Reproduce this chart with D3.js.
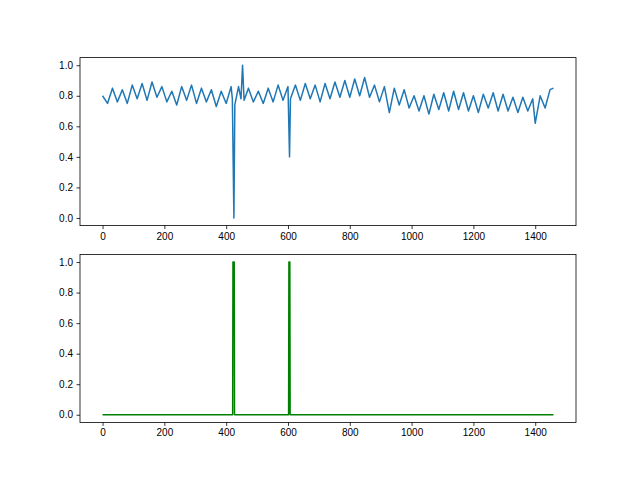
<!DOCTYPE html>
<html><head><meta charset="utf-8">
<script src="https://cdn.jsdelivr.net/npm/d3@7"></script>
<style>body{margin:0;background:#fff}svg{font-family:"DejaVu Sans",sans-serif}</style>
</head><body><svg id="c" width="640" height="480"></svg>
<script>
const topX = [0,16,32,48,64,80,96,112,128,144,160,176,192,208,224,240,256,272,288,304,320,336,352,368,384,400,416,420,425,428,440,448,453,458,472,488,504,520,536,552,568,584,600,605,608,624,640,656,672,688,704,720,736,752,768,784,800,816,832,848,864,880,896,912,928,944,960,976,992,1008,1024,1040,1056,1072,1088,1104,1120,1136,1152,1168,1184,1200,1216,1232,1248,1264,1280,1296,1312,1328,1344,1360,1376,1392,1400,1416,1432,1448,1459];
const topY = [0.80,0.75,0.85,0.76,0.84,0.75,0.87,0.78,0.88,0.77,0.89,0.79,0.86,0.76,0.83,0.74,0.86,0.77,0.87,0.75,0.85,0.76,0.84,0.73,0.83,0.75,0.86,0.78,0.0,0.74,0.86,0.78,1.0,0.77,0.85,0.76,0.83,0.75,0.85,0.76,0.87,0.77,0.86,0.40,0.78,0.87,0.77,0.88,0.78,0.87,0.76,0.88,0.78,0.89,0.79,0.90,0.79,0.91,0.80,0.92,0.79,0.87,0.76,0.86,0.69,0.85,0.74,0.84,0.72,0.80,0.70,0.80,0.68,0.81,0.71,0.82,0.70,0.83,0.71,0.82,0.70,0.80,0.69,0.81,0.72,0.82,0.70,0.81,0.70,0.79,0.69,0.79,0.70,0.78,0.62,0.80,0.72,0.84,0.85];
const botX = [0,421,422,426,427,602,603,606,607,1459];
const botY = [0,0,1,1,0,0,1,1,0,0];
const yTicks = [0,0.2,0.4,0.6,0.8,1.0];
const xTicks = [0,200,400,600,800,1000,1200,1400];

const svg = d3.select("#c");
const L = 80, R = 576;
const x = d3.scaleLinear().domain([-73, 1532]).range([L, R]);

function panel(top, bottom, xs, ys, color) {
  const y = d3.scaleLinear().domain([-0.05, 1.05]).range([bottom, top]);
  const g = svg.append("g");
  g.append("path").datum(xs.map((v, i) => [v, ys[i]]))
    .attr("fill", "none").attr("stroke", color).attr("stroke-width", 1.5)
    .attr("stroke-linejoin", "round")
    .attr("d", d3.line().x(d => x(d[0])).y(d => y(d[1])));
  g.append("rect").attr("x", L).attr("y", top).attr("width", R - L).attr("height", bottom - top)
    .attr("fill", "none").attr("stroke", "#000").attr("stroke-width", 0.8);
  const ax = g.append("g").attr("transform", `translate(0,${bottom})`)
    .call(d3.axisBottom(x).tickValues(xTicks).tickSize(3.5).tickPadding(3.5).tickFormat(d3.format("d")));
  const ay = g.append("g").attr("transform", `translate(${L},0)`)
    .call(d3.axisLeft(y).tickValues(yTicks).tickSize(3.5).tickPadding(3.5).tickFormat(d3.format(".1f")));
  [ax, ay].forEach(a => {
    a.select(".domain").remove();
    a.selectAll("text").attr("font-size", 10).attr("fill", "#000");
    a.selectAll("line").attr("stroke", "#000").attr("stroke-width", 0.8);
  });
}
panel(57.6, 225.6, topX, topY, "#1f77b4");
panel(254.4, 422.4, botX, botY, "green");
</script></body></html>
